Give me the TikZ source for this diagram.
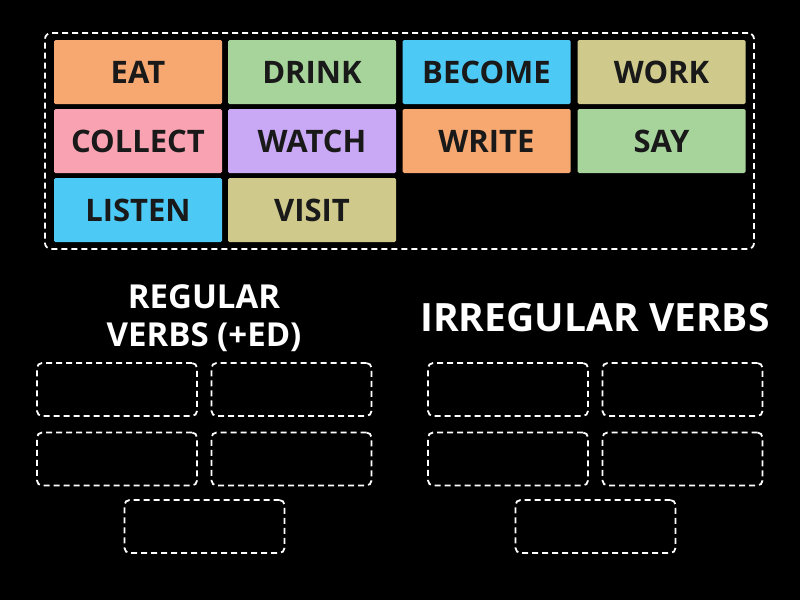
\documentclass[tikz,border=0pt]{standalone}
\usepackage{fontspec}
\setmainfont{Open Sans}
\definecolor{cor}{HTML}{F7A871}
\definecolor{cgr}{HTML}{A6D49B}
\definecolor{ccy}{HTML}{4DC9F6}
\definecolor{ckh}{HTML}{CFC98C}
\definecolor{cpk}{HTML}{F8A2B2}
\definecolor{cpu}{HTML}{C9A9F5}
\begin{document}
\begin{tikzpicture}[x=1pt,y=-1pt,
  tile/.style={minimum width=168pt,minimum height=64pt,inner sep=0pt,rounded corners=1.5pt,font=\fontsize{31}{36}\selectfont\bfseries,text=black!90},
  slot/.style={draw=white,dashed,line width=1.8pt,dash pattern=on 6pt off 4pt,rounded corners=5pt,minimum width=160pt,minimum height=53pt},
  head/.style={text=white,font=\bfseries,align=center}]
\fill[black] (0,0) rectangle (800,600);
\useasboundingbox (0,0) rectangle (800,600);
\node[draw=white,line width=1.8pt,dash pattern=on 6pt off 4pt,rounded corners=6pt,minimum width=709pt,minimum height=216pt] (box) at (399.5,141) {};
\node[tile,fill=cor] (t1) at (138,72) {EAT};
\node[tile,fill=cgr] (t2) at (312,72) {DRINK};
\node[tile,fill=ccy] (t3) at (486.5,72) {BECOME};
\node[tile,fill=ckh] (t4) at (661.5,72) {WORK};
\node[tile,fill=cpk] (t5) at (138,141) {COLLECT};
\node[tile,fill=cpu] (t6) at (312,141) {WATCH};
\node[tile,fill=cor] (t7) at (486.5,141) {WRITE};
\node[tile,fill=cgr] (t8) at (661.5,141) {SAY};
\node[tile,fill=ccy] (t9) at (138,210) {LISTEN};
\node[tile,fill=ckh] (t10) at (312,210) {VISIT};
\node[head,font=\fontsize{33}{38}\selectfont\bfseries] (h1) at (204,318) {REGULAR\\VERBS (+ED)};
\node[head,font=\fontsize{39}{44}\selectfont\bfseries] (h2) at (595,318) {IRREGULAR VERBS};
\node[slot] (a1) at (117,389.5) {};
\node[slot] (a2) at (291.5,389.5) {};
\node[slot] (a3) at (117,459) {};
\node[slot] (a4) at (291.5,459) {};
\node[slot] (a5) at (204.5,526.5) {};
\node[slot] (b1) at (508,389.5) {};
\node[slot] (b2) at (682.5,389.5) {};
\node[slot] (b3) at (508,459) {};
\node[slot] (b4) at (682.5,459) {};
\node[slot] (b5) at (595.5,526.5) {};
\end{tikzpicture}
\end{document}
